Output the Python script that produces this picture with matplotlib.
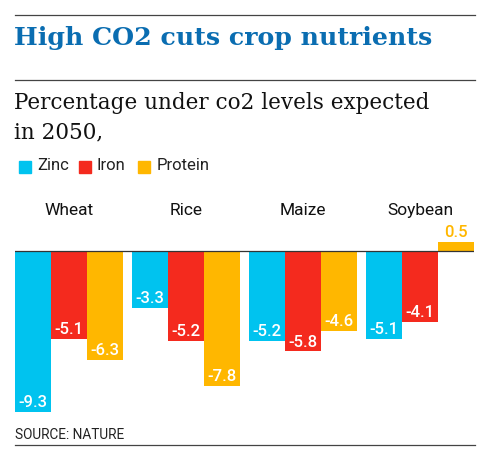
#!/usr/bin/env python3
"""High CO2 cuts crop nutrients - grouped bar chart."""

import matplotlib

matplotlib.use("Agg")
import matplotlib.pyplot as plt
from matplotlib.patches import Rectangle

crops = ["Wheat", "Rice", "Maize", "Soybean"]
nutrients = ["Zinc", "Iron", "Protein"]
zinc = [-9.3, -3.3, -5.2, -5.1]
iron = [-5.1, -5.2, -5.8, -4.1]
protein = [-6.3, -7.8, -4.6, 0.5]

colors = {"Zinc": "#00c3ef", "Iron": "#f42a1e", "Protein": "#ffb700"}
title_blue = "#0a6db1"

W, H = 490, 450


def fx(px):
    return px / W


def fy(py):
    return 1 - py / H


fig = plt.figure(figsize=(4.9, 4.5), dpi=100)

# rules
for y in (15, 80, 445):
    fig.add_artist(plt.Line2D([fx(15), fx(475)], [fy(y), fy(y)], color="#444444", linewidth=0.9))

fig.text(fx(14), fy(38), "High CO2 cuts crop nutrients", fontsize=18.2, fontweight="bold",
         family="DejaVu Serif", color=title_blue, va="center", ha="left")
fig.text(fx(14), fy(103), "Percentage under co2 levels expected", fontsize=15.5,
         family="DejaVu Serif", color="#111111", va="center", ha="left")
fig.text(fx(14), fy(132), "in 2050,", fontsize=15.5,
         family="DejaVu Serif", color="#111111", va="center", ha="left")

# legend
legend_x = [(19, 37), (79, 97), (138, 157)]
for name, (sx, tx) in zip(nutrients, legend_x):
    fig.add_artist(Rectangle((fx(sx), fy(173)), fx(12), 12 / H, color=colors[name],
                             transform=fig.transFigure))
    fig.text(fx(tx), fy(166), name, fontsize=12, family="Roboto", color="#222222",
             va="center", ha="left")

fig.text(fx(15), fy(435), "SOURCE: NATURE", fontsize=9.8, family="Roboto", color="#222222",
         va="center", ha="left")

# bars
ax = fig.add_axes([fx(15), fy(415), fx(459), (415 - 238) / H])
ax.set_xlim(0, 12.75)
ax.set_ylim(-9.48, 0.75)
ax.axis("off")

group_step = 3.25
series = {"Zinc": zinc, "Iron": iron, "Protein": protein}
for g, crop in enumerate(crops):
    start = g * group_step
    ax.text(start + 1.5, 0.75 + 27 / 17.3, crop, fontsize=12.5, family="Roboto", color="#111111",
            ha="center", va="center", clip_on=False)
    for i, name in enumerate(nutrients):
        value = series[name][g]
        x = start + i + 0.5
        ax.bar(x, value, width=1.0, color=colors[name], edgecolor="none")
        label = f"{value:g}"
        if value < 0:
            ax.text(x, value + 0.1, label, fontsize=12, family="Roboto", fontweight="medium",
                    color="white", ha="center", va="bottom")
        else:
            ax.text(x, value + 0.15, label, fontsize=12, family="Roboto", fontweight="medium",
                    color=colors[name], ha="center", va="bottom", clip_on=False)

ax.axhline(0, color="#333333", linewidth=0.9)

fig.savefig("out.png", dpi=100)
